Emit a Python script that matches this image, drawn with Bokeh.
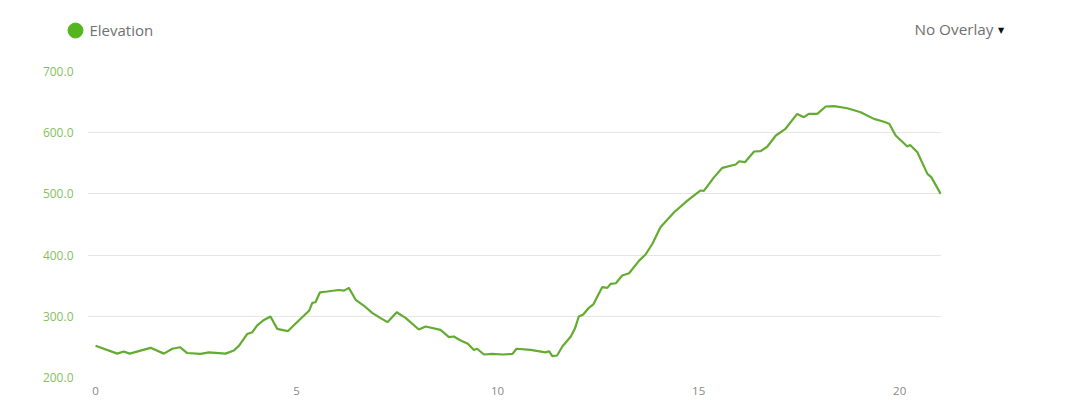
from bokeh.plotting import figure
from bokeh.models import Range1d, NumeralTickFormatter, FixedTicker
from bokeh.core.properties import value
from bokeh.embed import file_html
from bokeh.resources import INLINE

distance_km = [0, 0.54, 0.70, 0.85, 1.12, 1.37, 1.70, 1.91, 2.10, 2.28, 2.61, 2.82, 3.23, 3.44,
               3.57, 3.77, 3.90, 4.02, 4.19, 4.35, 4.52, 4.78, 5.10, 5.31, 5.39, 5.47, 5.58, 5.76,
               6.05, 6.18, 6.30, 6.47, 6.67, 6.88, 7.09, 7.26, 7.49, 7.71, 8.04, 8.21, 8.58, 8.79,
               8.91, 9.08, 9.26, 9.41, 9.49, 9.66, 9.87, 10.12, 10.37, 10.47, 10.82, 11.19, 11.28,
               11.36, 11.48, 11.61, 11.82, 11.92, 12.02, 12.13, 12.27, 12.38, 12.60, 12.73, 12.81,
               12.94, 13.10, 13.27, 13.52, 13.68, 13.85, 14.05, 14.39, 14.72, 15.05, 15.13, 15.38,
               15.59, 15.92, 16.01, 16.15, 16.38, 16.54, 16.71, 16.92, 17.16, 17.45, 17.62, 17.74,
               17.95, 18.16, 18.37, 18.70, 19.03, 19.36, 19.57, 19.74, 19.90, 20.19, 20.26, 20.44,
               20.69, 20.79, 21.02]
elevation_m = [252, 239, 242.5, 239, 244, 248.5, 239, 247, 249.5, 240, 238.6, 241, 239, 244,
               252, 271, 274, 285, 294, 299.7, 279.5, 275.7, 296, 309, 322, 323, 339, 340.5,
               343, 342, 346.5, 327, 317.6, 305.6, 297, 290.4, 306.7, 297.5, 278.4, 283.3, 277.8, 265.9,
               267, 260.5, 255, 245, 247, 237.6, 238.6, 237.6, 238.6, 247, 245, 241, 243,
               234.8, 236, 250.6, 267, 279.5, 299.7, 303, 313.9, 319.3, 347.6, 346.5, 353,
               354, 366.7, 370.4, 391, 401, 418.5, 445.6, 470, 489, 505.6, 505, 527,
               542.6, 548, 553.4, 551.8, 569.3, 569.8, 577.4, 595.4, 606.4, 630.7, 625.3, 630.7,
               630.7, 642.8, 643.3, 640, 633.5, 622.6, 618.8, 614.5, 595.4, 577.4, 580, 568,
               532.7, 527, 500]
y_ticks = [200, 300, 400, 500, 600, 700]
x_ticks = [0, 5, 10, 15, 20]
series_name = "Elevation"
overlay_text = "No Overlay"

HEADER_H = 50

# header strip (legend + overlay selector), screen-like coordinates
h = figure(width=1064, height=HEADER_H, output_backend="svg", toolbar_location=None,
           x_range=Range1d(0, 1064), y_range=Range1d(HEADER_H, 0),
           min_border_left=0, min_border_right=0, min_border_top=0, min_border_bottom=0)
h.axis.visible = False
h.grid.visible = False
h.outline_line_color = None
h.scatter([75], [30], size=15, marker="circle", fill_color="#55b51f", line_color="#55b51f")
h.text([89], [29.5], text=[series_name], text_color="#707070", text_font_size="15px",
       text_align="left", text_baseline="middle", text_font=value("Open Sans"))
h.text([993], [28.5], text=[overlay_text], text_color="#707070", text_font_size="15.3px",
       text_align="right", text_baseline="middle", text_font=value("Open Sans"))
h.text([1000.5], [30], text=["▼"], text_color="#111111", text_font_size="8px",
       text_align="center", text_baseline="middle", text_font=value("DejaVu Sans"))

p = figure(frame_width=854, frame_height=306, output_backend="svg", toolbar_location=None,
           x_range=Range1d(-0.2, 21.04), y_range=Range1d(200, 700),
           min_border_left=87, min_border_right=123, min_border_top=71 - HEADER_H,
           min_border_bottom=18)
p.outline_line_color = None

p.line(distance_km, elevation_m, line_color="#64ab32", line_width=2.2)

p.xgrid.grid_line_color = None
p.ygrid.grid_line_color = "#e6e6e6"
p.ygrid.grid_line_width = 1

p.yaxis.ticker = FixedTicker(ticks=y_ticks)
p.xaxis.ticker = FixedTicker(ticks=x_ticks)
p.yaxis.formatter = NumeralTickFormatter(format="0.0")
for ax in (p.xaxis, p.yaxis):
    ax.axis_line_color = None
    ax.major_tick_line_color = None
    ax.minor_tick_line_color = None
    ax.major_tick_out = 0
    ax.major_tick_in = 0
    ax.major_label_text_font = "Open Sans"
p.yaxis.major_label_text_font_size = "12px"
p.xaxis.major_label_text_font_size = "11.5px"
p.yaxis.major_label_text_color = "#86c060"
p.xaxis.major_label_text_color = "#888888"
p.yaxis.major_label_standoff = 14
p.xaxis.major_label_standoff = 9

open("out.html", "w").write(file_html([h, p], INLINE))
